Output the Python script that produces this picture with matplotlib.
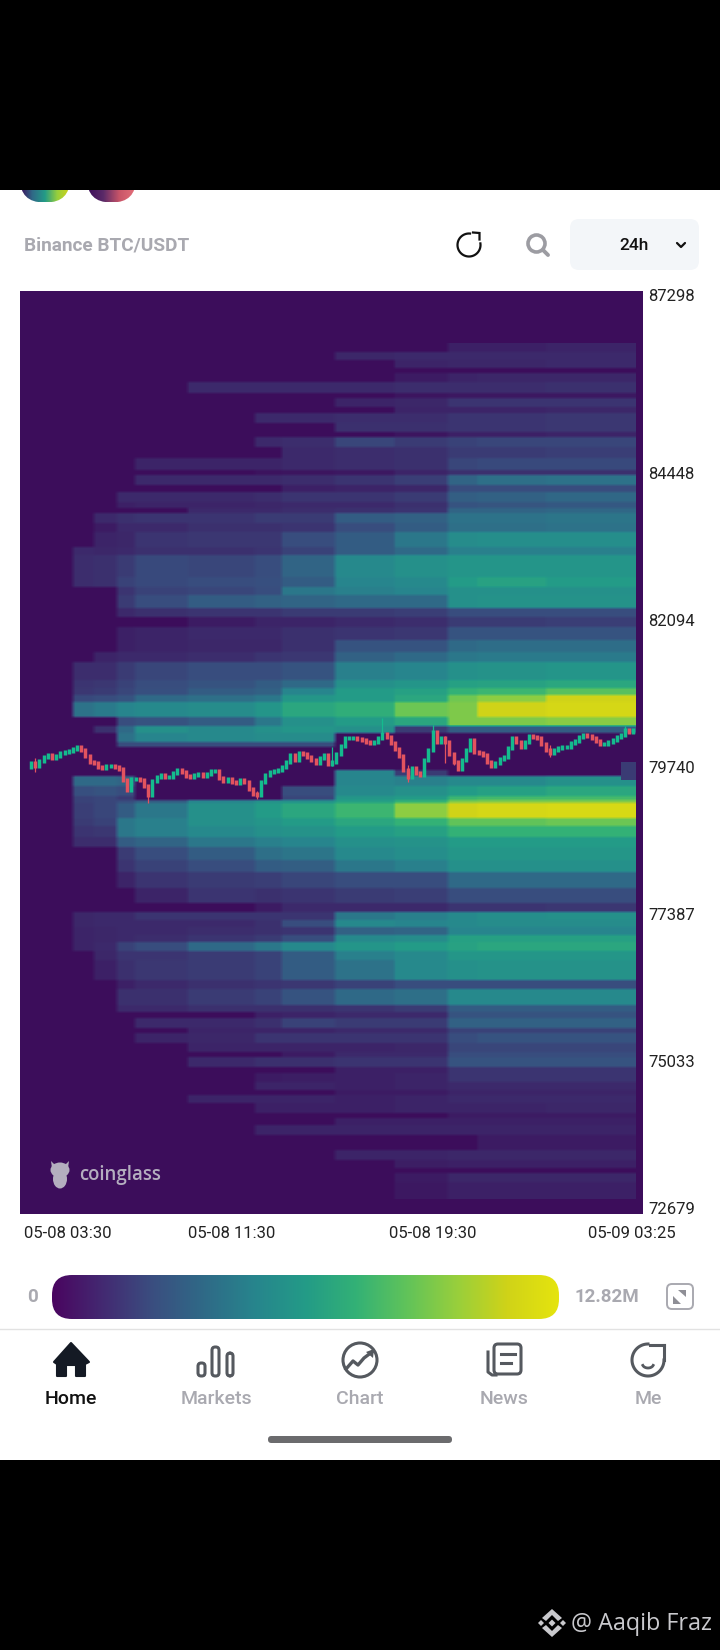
import numpy as np
import matplotlib
matplotlib.use("Agg")
import matplotlib.pyplot as plt
from matplotlib.colors import LinearSegmentedColormap
from matplotlib.patches import FancyBboxPatch, Rectangle, Circle, Polygon, Ellipse
from matplotlib.transforms import ScaledTranslation

plt.rcParams['font.family'] = ['Roboto', 'DejaVu Sans']

# ---------- data ----------
pair_title = "Binance BTC/USDT"
range_label = "24h"
scale_min_label = "0"
scale_max_label = "12.82M"
scale_max = 12.82  # millions
price_ticks = [87298, 84448, 82094, 79740, 77387, 75033, 72679]
time_ticks = [0, 8, 16, 23.92]          # hours after 05-08 03:30
time_labels = ["05-08 03:30", "05-08 11:30", "05-08 19:30", "05-09 03:25"]
nav_labels = ["Home", "Markets", "Chart", "News", "Me"]

# heat map column edges, hours after 05-08 03:30
col_hours = [1.67, 2.51, 3.43, 4.14, 6.25, 8.92, 10.0, 12.11, 14.5, 16.61, 17.77, 20.52, 24.1]
# heat map row edges, price (USDT), top to bottom
row_prices = [86524, 86380, 86252, 86124, 86044, 85900, 85724, 85644, 85500, 85404, 85244, 85100,
              85020, 84860, 84684, 84492, 84412, 84252, 84140, 83980, 83884, 83804, 83644, 83500,
              83260, 83132, 82780, 82620, 82492, 82284, 82140, 81980, 81772, 81580, 81420, 81132,
              81004, 80892, 80780, 80540, 80396, 80284, 80140, 80060, 79692, 79596, 79436, 79276,
              79212, 79164, 78924, 78796, 78620, 78460, 78252, 78060, 77804, 77564, 77420, 77292,
              77180, 77052, 76940, 76796, 76652, 76332, 76188, 75932, 75820, 75724, 75564, 75484,
              75324, 75180, 75100, 74940, 74844, 74700, 74572, 74492, 74364, 74204, 74124, 74012,
              73852, 73612, 73452, 73324, 73244, 73100, 72828]
# liquidation leverage as percent of the colour-scale maximum, one list per row
heat_pct = [
    [0,0,0,0,0,0,0,0,0,7,7,8],
    [0,0,0,0,0,0,0,9,10,10,10,10],
    [0,0,0,0,0,0,0,0,8,9,9,10],
    [0,0,0,0,0,0,0,0,0,0,0,0],
    [0,0,0,0,0,0,0,0,5,8,9,9],
    [0,0,0,0,10,10,10,10,11,11,11,12],
    [0,0,0,0,0,0,0,0,3,4,4,4],
    [0,0,0,0,0,0,0,8,9,13,13,13],
    [0,0,0,0,0,0,0,0,8,8,8,9],
    [0,0,0,0,0,10,10,11,11,13,13,14],
    [0,0,0,0,0,0,0,12,12,13,13,14],
    [0,0,0,0,0,0,0,0,3,7,7,8],
    [0,0,0,0,0,10,11,18,15,17,18,18],
    [0,0,0,0,0,0,10,11,12,15,15,16],
    [0,0,0,8,8,8,10,11,12,18,19,19],
    [0,0,0,0,0,2,3,4,8,12,12,12],
    [0,0,0,10,10,10,11,13,16,28,32,33],
    [0,0,0,0,0,0,7,8,9,20,20,20],
    [0,0,10,10,10,11,13,13,15,26,27,29],
    [0,0,7,8,8,9,10,10,12,22,23,24],
    [0,0,0,0,10,10,11,12,13,28,28,29],
    [0,10,12,13,13,15,15,25,27,33,33,34],
    [0,5,10,10,12,12,13,20,25,32,32,33],
    [0,8,9,13,14,14,20,25,35,43,44,44],
    [10,9,10,12,12,13,17,25,30,38,38,38],
    [11,12,15,19,18,20,28,42,45,47,47,47],
    [11,12,17,19,20,21,25,40,42,50,53,50],
    [0,0,13,17,18,20,35,38,40,45,45,45],
    [0,0,15,20,25,27,28,30,30,45,46,46],
    [0,0,10,12,13,13,15,15,16,20,20,20],
    [0,0,0,0,5,8,8,10,11,15,15,16],
    [0,0,7,8,10,10,12,13,14,22,22,22],
    [0,0,7,8,9,9,12,22,22,30,31,31],
    [0,8,10,10,11,13,14,27,30,35,36,36],
    [11,11,15,18,20,20,22,38,40,45,46,47],
    [13,14,17,20,22,25,30,45,47,52,53,55],
    [14,15,18,21,25,27,40,50,52,60,62,68],
    [19,20,22,30,32,35,48,50,55,73,78,90],
    [33,36,40,42,43,47,55,58,72,75,90,92],
    [0,0,20,22,25,35,45,50,55,75,75,77],
    [0,12,30,45,42,45,47,45,15,25,25,25],
    [0,0,33,40,42,43,43,0,0,0,0,0],
    [0,0,20,20,20,20,20,0,0,0,0,0],
    [0,0,0,0,0,0,0,0,0,0,0,0],
    [0,0,0,0,0,0,0,40,15,0,0,0],
    [30,30,28,0,0,0,0,40,38,42,42,45],
    [21,22,20,0,0,0,20,42,45,50,52,55],
    [17,18,15,0,0,0,18,48,50,62,64,64],
    [17,18,20,25,40,45,45,52,60,75,76,76],
    [16,18,25,35,45,50,55,62,78,90,92,93],
    [15,17,35,38,45,47,50,55,60,70,70,72],
    [13,14,35,38,42,45,46,50,52,60,60,60],
    [11,11,25,28,35,38,40,45,46,50,50,50],
    [0,0,15,20,25,32,34,42,44,48,48,48],
    [0,0,13,17,20,25,26,35,38,45,45,45],
    [0,0,8,13,15,16,18,20,20,30,30,30],
    [0,0,0,8,13,12,13,15,16,20,20,20],
    [0,0,0,0,0,5,10,10,10,13,13,14],
    [9,10,10,13,13,13,13,35,38,42,44,45],
    [9,10,10,10,10,12,20,42,40,42,43,43],
    [8,9,10,10,11,12,13,27,28,40,40,40],
    [8,9,10,11,13,15,20,42,43,52,52,52],
    [8,10,17,20,30,35,42,47,50,53,55,55],
    [0,9,13,13,15,17,25,38,42,48,48,48],
    [0,7,12,14,15,17,25,33,42,45,46,46],
    [0,0,7,10,12,13,14,17,20,20,20,20],
    [0,0,12,12,15,17,22,30,32,42,42,42],
    [0,0,10,10,12,12,12,13,15,25,25,25],
    [0,0,0,0,0,7,8,10,10,22,22,22],
    [0,0,0,10,10,12,17,15,15,27,27,27],
    [0,0,0,0,8,8,8,10,10,17,17,17],
    [0,0,0,8,9,13,13,13,13,20,22,22],
    [0,0,0,0,8,8,8,8,9,18,18,18],
    [0,0,0,0,0,0,5,10,10,20,20,20],
    [0,0,0,0,10,12,12,13,13,22,22,22],
    [0,0,0,0,0,0,0,7,7,13,13,13],
    [0,0,0,0,0,5,6,7,8,13,13,13],
    [0,0,0,0,0,8,8,7,8,10,10,10],
    [0,0,0,0,0,0,0,5,5,8,8,8],
    [0,0,0,0,8,8,8,7,8,10,10,10],
    [0,0,0,0,0,7,7,7,8,8,8,9],
    [0,0,0,0,0,0,0,0,0,5,5,5],
    [0,0,0,0,0,0,0,7,7,7,7,7],
    [0,0,0,0,0,8,8,8,8,8,8,8],
    [0,0,0,0,0,0,0,0,0,0,5,5],
    [0,0,0,0,0,0,0,8,8,9,9,9],
    [0,0,0,0,0,0,0,0,6,7,7,7],
    [0,0,0,0,0,0,0,0,0,0,0,0],
    [0,0,0,0,0,0,0,0,5,9,9,9],
    [0,0,0,0,0,0,0,0,4,7,7,7],
]
# small leftover liquidity block at the right edge
block_hours = [23.5, 24.1]
block_prices = [79820, 79532]
block_pct = [[15]]
# ten-minute candle closes
candle_closes = [
    79804, 79756, 79836, 79900, 79932, 79884, 79916, 79964, 79980, 79996, 80028, 80060, 80012, 79916,
    79820, 79804, 79740, 79724, 79756, 79756, 79740, 79708, 79532, 79372, 79548, 79548, 79532, 79436,
    79292, 79516, 79580, 79612, 79580, 79580, 79644, 79692, 79660, 79596, 79580, 79612, 79628, 79596,
    79628, 79676, 79676, 79564, 79516, 79548, 79500, 79484, 79532, 79500, 79388, 79308, 79292, 79500,
    79612, 79660, 79676, 79692, 79740, 79820, 79932, 79852, 79964, 79948, 79900, 79852, 79804, 79884,
    79932, 79788, 79820, 79948, 80076, 80204, 80204, 80204, 80188, 80172, 80140, 80124, 80140, 80204,
    80268, 80220, 80124, 80028, 79916, 79692, 79580, 79724, 79644, 79612, 79852, 80012, 80300, 80140,
    80204, 80140, 79948, 79820, 79708, 79852, 80012, 80172, 79980, 79964, 79932, 79820, 79756, 79804,
    79868, 79900, 80044, 80204, 80140, 80060, 80140, 80236, 80220, 80204, 80108, 80012, 79964, 80012,
    80044, 80060, 80060, 80124, 80156, 80220, 80252, 80236, 80204, 80156, 80108, 80108, 80140, 80172,
    80220, 80252, 80332, 80300, 80332]
candle_minutes = 10
# a few long wicks: candle index, low, high
wick_index = [1, 28, 54, 72, 84, 90, 96, 99, 101, 124, 142]
wick_low = [79660, 79160, 79230, 79760, 80190, 79500, 80100, 79800, 79780, 79900, 80300]
wick_high = [79880, 79340, 79360, 80060, 80520, 79780, 80420, 80240, 79900, 80100, 80400]

# ---------- colours ----------
heat_colors = ['#3c0d5b', '#3c2a6b', '#384d7e', '#2f6a87', '#27858d', '#239b87',
               '#33b176', '#60c35a', '#98cf3c', '#d0d318', '#e5e40e']
cbar_colors = ['#4a0560', '#432a72', '#3a4f80', '#2f6a87', '#27858d', '#239b87',
               '#33b176', '#60c35a', '#98cf3c', '#d0d318', '#e5e40e']
cmap = LinearSegmentedColormap.from_list('liq', heat_colors)
BG = heat_colors[0]
GREEN = '#14bb8e'
RED = '#e2535f'
GREY = '#a9a9b0'
ICON = '#55595f'

W, H = 720, 1650
fig = plt.figure(figsize=(W / 100, H / 100), dpi=100, facecolor='white')

# ---------- heat map ----------
L, R, T, B = 20, 643, 290.5, 1214
ax = fig.add_axes([L / W, 1 - B / H, (R - L) / W, (B - T) / H], facecolor=BG)
z = np.array(heat_pct) / 100 * scale_max

# slightly soften the cells on a fine grid, as the source's scaled bitmap does
edges_t = np.asarray(col_hours)
edges_p = np.asarray(row_prices)[::-1]
z_up = z[::-1]
fine_t = np.linspace(edges_t[0] - 0.2, edges_t[-1], 660)
fine_p = np.linspace(edges_p[0], edges_p[-1], 860)
mid_t = (fine_t[:-1] + fine_t[1:]) / 2
mid_p = (fine_p[:-1] + fine_p[1:]) / 2
it = np.searchsorted(edges_t, mid_t) - 1
ip = np.clip(np.searchsorted(edges_p, mid_p) - 1, 0, z_up.shape[0] - 1)
fine = z_up[np.ix_(ip, np.clip(it, 0, z_up.shape[1] - 1))]
fine[:, it < 0] = 0

def soften(a, k, axis):
    kern = np.ones(k) / k
    pad = k // 2
    return np.apply_along_axis(
        lambda v: np.convolve(np.pad(v, pad, mode='edge'), kern, mode='valid'), axis, a)

fine = soften(soften(fine, 3, 0), 5, 1)
ax.pcolormesh(fine_t, fine_p, fine, cmap=cmap, vmin=0, vmax=scale_max, shading='flat', rasterized=True)
ax.pcolormesh(block_hours, block_prices, np.array(block_pct) / 100 * scale_max,
              cmap=cmap, vmin=0, vmax=scale_max, shading='flat')

closes = np.array(candle_closes, dtype=float)
opens = np.r_[closes[0] - 60, closes[:-1]]
hours = np.arange(len(closes)) * candle_minutes / 60
colors = [GREEN if c >= o else RED for o, c in zip(opens, closes)]
ax.vlines(hours, np.minimum(opens, closes) - 28, np.maximum(opens, closes) + 28,
          colors=colors, lw=2.5, capstyle='butt', zorder=4)
for i, lo, hi in zip(wick_index, wick_low, wick_high):
    ax.vlines(hours[i], lo, hi, colors=colors[i], lw=0.9, zorder=3)

ax.set_xlim(-0.44, 24.38)
ax.set_ylim(72588, 87364)
ax.yaxis.tick_right()
ax.set_yticks(price_ticks)
ax.set_yticklabels([str(p) for p in price_ticks], fontsize=12, color='#222222')
ax.set_xticks(time_ticks)
ax.set_xticklabels(time_labels, fontsize=12, color='#222222')
ax.tick_params(axis='both', length=0)
ax.tick_params(axis='y', pad=3.6)
ax.tick_params(axis='x', pad=8.5)
lab0 = ax.get_xticklabels()[0]
lab0.set_transform(lab0.get_transform() + ScaledTranslation(37 / 100, 0, fig.dpi_scale_trans))
for s in ax.spines.values():
    s.set_visible(False)

# ---------- page furniture in pixel coordinates ----------
ov = fig.add_axes([0, 0, 1, 1], facecolor='none')
ov.set_axis_off()

def rr(x0, y0, x1, y1, r, **kw):
    return FancyBboxPatch((x0 + r, y0 + r), x1 - x0 - 2 * r, y1 - y0 - 2 * r,
                          boxstyle=f"round,pad={r},rounding_size={r}", **kw)

def gradient(x0, y0, x1, y1, r, cm):
    patch = rr(x0, y0, x1, y1, r, fc='none', ec='none')
    ov.add_patch(patch)
    im = ov.imshow(np.linspace(0, 1, 256)[None, :], cmap=cm, extent=(x0, x1, y1, y0),
                   aspect='auto', zorder=2, interpolation='bilinear')
    im.set_clip_path(patch)

# clipped selector blobs above the header
blob2 = LinearSegmentedColormap.from_list('b2', ['#3c0d5b', '#5a2a68', '#c95568', '#e5707a'])
blob1 = LinearSegmentedColormap.from_list('b1', ['#3c0d5b', '#2f6a87', '#239b87', '#98cf3c', '#d0d318'])
gradient(20, 150, 70, 202.5, 24, blob1)
gradient(87, 150, 136, 202.5, 24, blob2)

# black letterbox bars
ov.add_patch(Rectangle((0, 0), W, 190, fc='black', ec='none', zorder=3))
ov.add_patch(Rectangle((0, 1460), W, 190, fc='black', ec='none', zorder=3))

ov.text(24, 245.5, pair_title, fontsize=13.7, fontweight='bold', color=GREY, va='center', ha='left')

# refresh icon
ang = np.radians(np.linspace(85, 368, 80))
ov.plot(469 + 11.5 * np.cos(ang), 245 - 11.5 * np.sin(ang), color='#111111', lw=1.6)
ov.plot([473, 479.5, 479.5], [232.5, 233, 239.5], color='#111111', lw=1.6, solid_joinstyle='miter')
# search icon
ov.add_patch(Circle((536.5, 243.5), 8.5, fc='none', ec='#9c9ca2', lw=2.6))
ov.plot([543, 548], [250, 255], color='#9c9ca2', lw=2.8, solid_capstyle='round')
# range selector
ov.add_patch(rr(570, 219, 699, 270, 9, fc='#f3f6f9', ec='none'))
ov.text(634, 245.5, range_label, fontsize=12.5, fontweight='medium', color='#111111', ha='center', va='center')
ov.plot([677, 681, 685], [243, 247, 243], color='#111111', lw=1.6, solid_capstyle='round')

# coinglass mark
wm = '#b4aebf'
ov.add_patch(Ellipse((60, 1170), 19, 15, fc=wm, ec='none'))
ov.add_patch(Ellipse((60, 1179), 14, 19, fc=wm, ec='none'))
ov.add_patch(Polygon([[51, 1161], [55, 1165], [65, 1165], [69, 1161], [68, 1168], [52, 1168]], fc=wm, ec='none'))
ov.text(79, 1175, "coinglass", fontsize=13.4, fontweight='semibold', color=wm, ha='left', va='center',
        family=['Open Sans', 'DejaVu Sans'])

# colour scale
gradient(52, 1275, 559, 1319, 20, LinearSegmentedColormap.from_list('cb', cbar_colors))
ov.text(32, 1297, scale_min_label, fontsize=13.5, fontweight='bold', color=GREY, ha='center', va='center')
ov.text(607, 1297, scale_max_label, fontsize=13.5, fontweight='bold', color=GREY, ha='center', va='center')
ov.add_patch(rr(667, 1284, 693, 1309, 5, fc='none', ec='#a9a9b0', lw=1.4))
ov.add_patch(Polygon([[678, 1290], [686, 1290], [686, 1297]], fc='#8f8f96', ec='none'))
ov.add_patch(Polygon([[673, 1296], [673, 1304], [681, 1304]], fc='#8f8f96', ec='none'))

ov.plot([0, W], [1329, 1329], color='#e2e2e2', lw=1)

# navigation
nav_x = [71, 216, 360, 504, 648]
for x, t in zip(nav_x, nav_labels):
    c = '#111111' if t == 'Home' else GREY
    ov.text(x, 1398.5, t, fontsize=14, fontweight='medium', color=c, ha='center', va='center')
# home
dark = '#141a24'
ov.add_patch(Polygon([[54, 1362], [71, 1343], [89, 1362], [85, 1364], [85, 1376], [76, 1376], [76, 1365],
                      [66, 1365], [66, 1376], [57, 1376], [57, 1364]], fc=dark, ec=dark, lw=1.5, joinstyle='round'))
# markets
for x0, x1, y0 in [(198, 205, 1363), (212, 219, 1347), (227, 233, 1353)]:
    ov.add_patch(rr(x0, y0, x1, 1376, 3.2, fc='none', ec=ICON, lw=2.2))
# chart
ov.add_patch(Circle((360, 1360), 17, fc='none', ec=ICON, lw=2.2))
ov.plot([346, 353, 358, 364, 372], [1369, 1361, 1365, 1358, 1352], color=ICON, lw=2.4)
ov.add_patch(Polygon([[366, 1352], [374, 1349], [373, 1358]], fc=ICON, ec='none'))
# news
ov.add_patch(rr(494, 1344, 521, 1374, 4, fc='none', ec=ICON, lw=2.2))
ov.plot([488, 488, 492, 496], [1352, 1372, 1375, 1375], color=ICON, lw=2.2)
ov.plot([501, 515], [1354, 1354], color=ICON, lw=2.2)
ov.plot([501, 511], [1363, 1363], color=ICON, lw=2.2)
# me
ang = np.radians(np.linspace(0, -270, 60))
ov.plot(648 + 16 * np.cos(ang), 1360 - 16 * np.sin(ang), color=ICON, lw=2.2)
ov.plot([664, 664], [1345, 1360], color=ICON, lw=2.2)
ov.plot([650, 664], [1345, 1345], color=ICON, lw=2.2)
ang = np.radians(np.linspace(200, 340, 20))
ov.plot(648 + 5.5 * np.cos(ang), 1364 - 4 * np.sin(ang), color=ICON, lw=2)
ov.add_patch(rr(268, 1436, 452, 1443, 3.4, fc='#6b6b6d', ec='none'))

# watermark on the lower bar
wmk = '#c9c9cd'
ov.text(571, 1624, "@ Aaqib Fraz", fontsize=16.8, color=wmk, ha='left', va='center', zorder=5,
        family=['Open Sans', 'DejaVu Sans'])
for pts in ([[552, 1609], [562, 1618], [558, 1621], [552, 1615], [546, 1621], [542, 1618]],
            [[552, 1637], [562, 1628], [558, 1625], [552, 1631], [546, 1625], [542, 1628]],
            [[538, 1623], [541, 1620], [544, 1623], [541, 1626]],
            [[560, 1623], [563, 1620], [566, 1623], [563, 1626]],
            [[552, 1619.5], [555.5, 1623], [552, 1626.5], [548.5, 1623]]):
    ov.add_patch(Polygon(pts, fc=wmk, ec='none', zorder=5))

ov.set_xlim(0, W)
ov.set_ylim(H, 0)
fig.savefig('out.png', dpi=100, facecolor='white')
